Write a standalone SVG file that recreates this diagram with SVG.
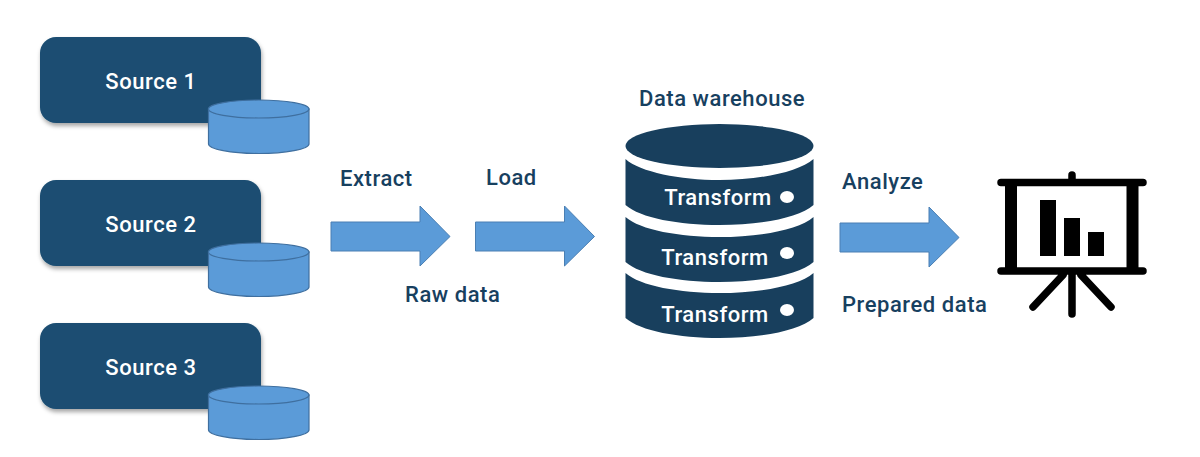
<svg xmlns="http://www.w3.org/2000/svg" width="1200" height="457" viewBox="0 0 1200 457">
<style>
text{font-family:"Roboto","Liberation Sans",sans-serif;font-size:22px;font-weight:500;letter-spacing:.55px}
.lbl{fill:#17405f}
.w{fill:#fff;text-anchor:middle}
.src{fill:#1b4e72;filter:url(#sh)}
.cyl{fill:#5b9bd8;stroke:#3f6f9f;stroke-width:1.2}
.arr{fill:#5b9bd8;stroke:#4a7fb3;stroke-width:1}
.wh{fill:#183f5d}
.ic{stroke:#000;stroke-linecap:round;stroke-width:7.500;fill:none}
.fr{stroke:#000;stroke-width:12;fill:none}
</style>
<defs>
<filter id="sh" x="-10%" y="-10%" width="125%" height="130%"><feDropShadow dx="1" dy="3" stdDeviation="2" flood-color="#000" flood-opacity=".35"/></filter>
<g id="can"><path class="cyl" d="M208.500 109V144C208.500 149 231 153.500 258.500 153.500S309 149 309 144V109Z"/><ellipse class="cyl" cx="258.700" cy="109" rx="50.300" ry="9"/></g>
</defs>
<g id="source-1"><rect class="src" x="40" y="37" width="221" height="86" rx="16"/><text class="w" x="151" y="89">Source 1</text><use href="#can"/></g>
<g id="source-2"><rect class="src" x="40" y="180" width="221" height="86" rx="16"/><text class="w" x="151" y="232">Source 2</text><use href="#can" y="143"/></g>
<g id="source-3"><rect class="src" x="40" y="323" width="221" height="86" rx="16"/><text class="w" x="151" y="375">Source 3</text><use href="#can" y="286"/></g>
<g id="connectors">
<path class="arr" d="M331 222H420V206L450 236.500L420 266V251H331Z"/>
<path class="arr" d="M475.500 222H564.500V206L594.500 236.500L564.500 266V251H475.500Z"/>
<path class="arr" d="M840 223H929V207L959 237.500L929 267V252H840Z"/>
</g>
<g id="labels">
<text class="lbl" x="340" y="186">Extract</text>
<text class="lbl" x="486" y="185">Load</text>
<text class="lbl" x="405" y="302">Raw data</text>
<text class="lbl" x="842" y="189">Analyze</text>
<text class="lbl" x="842" y="312">Prepared data</text>
</g>
<g id="warehouse">
<text class="lbl" x="639" y="106">Data warehouse</text>
<ellipse class="wh" cx="719.500" cy="146" rx="94" ry="22"/>
<path class="wh" d="M625.500 159C640 172 680 180 719.500 180S799 172 813.500 159V205C799 218 760 225 719.500 225S640 218 625.500 205Z"/>
<path class="wh" d="M625.500 217C640 230 680 237 719.500 237S799 230 813.500 217V262C799 275 760 282 719.500 282S640 275 625.500 262Z"/>
<path class="wh" d="M625.500 273C640 286 680 293 719.500 293S799 286 813.500 273V318C799 331 760 338 719.500 338S640 331 625.500 318Z"/>
<text class="w" x="718" y="205">Transform</text><ellipse cx="787" cy="197" rx="7" ry="6" fill="#fff"/>
<text class="w" x="715" y="265">Transform</text><ellipse cx="787" cy="253" rx="7" ry="6" fill="#fff"/>
<text class="w" x="715" y="322">Transform</text><ellipse cx="787" cy="310" rx="7" ry="6" fill="#fff"/>
</g>
<g id="presentation">
<path class="fr" d="M1011 182V271M1132.500 182V271"/>
<path class="ic" d="M1001 182.500H1143M1001 271H1143M1072 175V182M1072 271V314M1063 275L1033 307M1081 275L1111 307"/>
<rect x="1040" y="200" width="16" height="56"/><rect x="1064" y="218" width="16" height="38"/><rect x="1088" y="232" width="16" height="24"/>
</g>
</svg>
